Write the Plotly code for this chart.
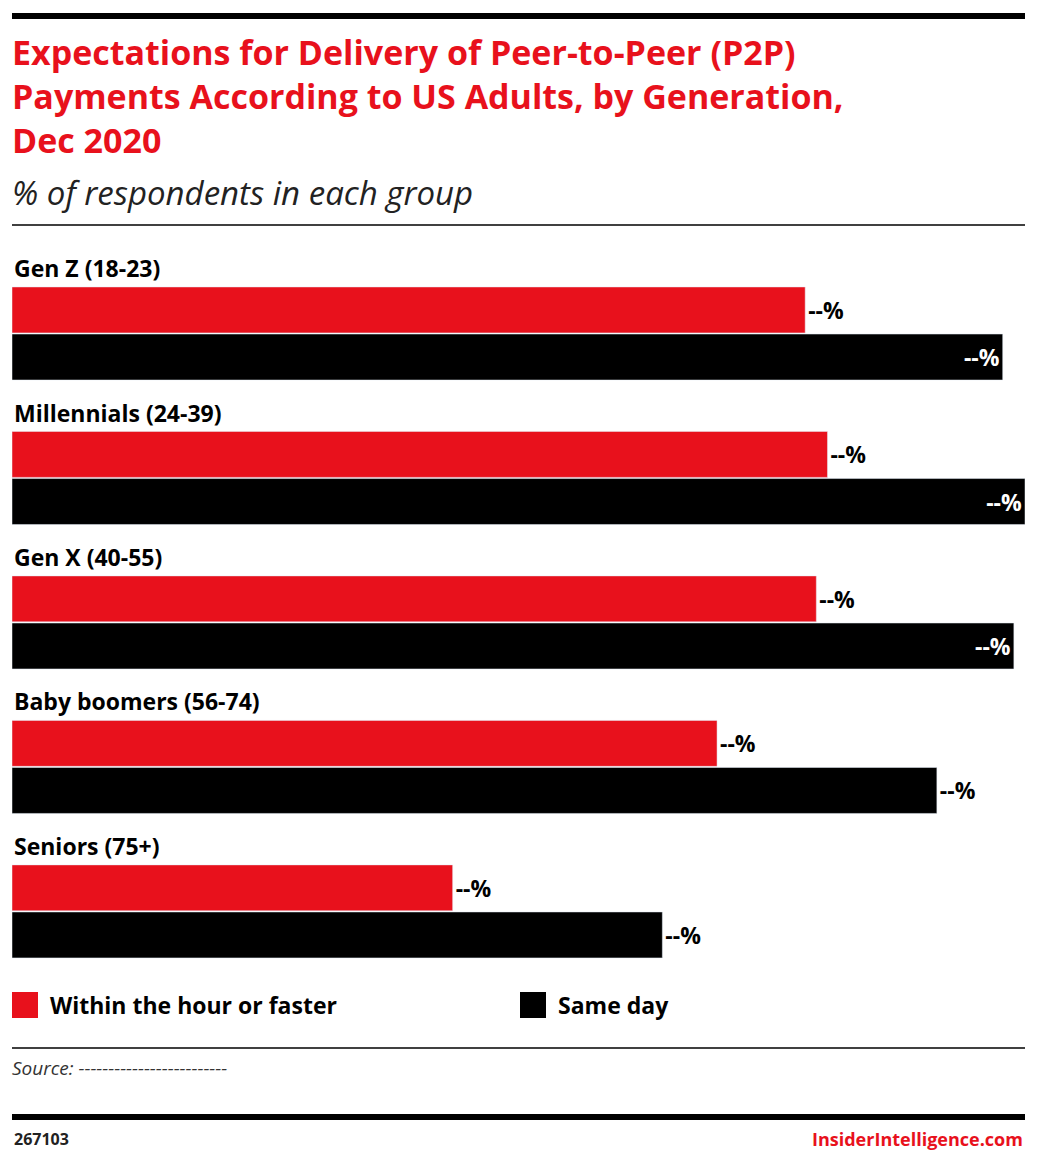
import plotly.graph_objects as go

categories = ["Gen Z (18-23)", "Millennials (24-39)", "Gen X (40-55)", "Baby boomers (56-74)", "Seniors (75+)"]
within_hour = [78.3, 80.5, 79.4, 69.6, 43.5]
same_day = [97.8, 100.0, 98.9, 91.3, 64.2]
bar_labels = ["--%"] * 5
series_names = ["Within the hour or faster", "Same day"]
RED, BLACK = "#e8111c", "#000000"
OFF = 8  # page body margin
W, H = 1038 - 2 * OFF, 1163 - 2 * OFF
FONT = "Open Sans"

def px_x(x):
    return (x - OFF) / W

def py(y):
    return 1 - (y - OFF) / H

idx = list(range(len(categories)))
fig = go.Figure()
fig.add_bar(x=within_hour, y=[i + 0.29 for i in idx], orientation="h", width=0.318,
            marker_color=RED, name=series_names[0], text=[f"<b>{t}</b>" for t in bar_labels],
            textposition="outside", textfont=dict(size=23, color="black", family=FONT),
            cliponaxis=False, showlegend=False)
pos = ["inside" if v > 95 else "outside" for v in same_day]
fig.add_bar(x=same_day, y=[i + 0.616 for i in idx], orientation="h", width=0.318,
            marker_color=BLACK, name=series_names[1], text=[f"<b>{t}</b>" for t in bar_labels],
            textposition=pos, insidetextanchor="end",
            insidetextfont=dict(size=23, color="white", family=FONT),
            outsidetextfont=dict(size=23, color="black", family=FONT),
            cliponaxis=False, showlegend=False)

for i, c in enumerate(categories):
    fig.add_annotation(x=0, y=i, xref="x", yref="y", text=f"<b>{c}</b>", showarrow=False,
                       xanchor="left", yanchor="middle", font=dict(size=23, color="black", family=FONT))

anns = [
    (10, 96, "<b>Expectations for Delivery of Peer-to-Peer (P2P)<br>Payments According to US Adults, by Generation,<br>Dec 2020</b>", 34, RED, "left"),
    (10, 193, "<i>% of respondents in each group</i>", 33, "#222", "left"),
    (10, 1068, "<i>Source: -------------------------</i>", 19, "#333", "left"),
    (12, 1139, "<b>267103</b>", 16, "#222", "left"),
    (1025, 1139, "<b>InsiderIntelligence.com</b>", 18, RED, "right"),
]
for x, y, t, s, col, anc in anns:
    fig.add_annotation(x=px_x(x), y=py(y), xref="paper", yref="paper", text=t, showarrow=False,
                       xanchor=anc, yanchor="middle", align="left",
                       font=dict(size=s, color=col, family=FONT))

# legend
for (lx, col), name in zip([(12, RED), (520, BLACK)], series_names):
    fig.add_shape(type="rect", xref="paper", yref="paper", x0=px_x(lx), x1=px_x(lx + 26),
                  y0=py(1018), y1=py(992), fillcolor=col, line_width=0)
    fig.add_annotation(x=px_x(lx + 36), y=py(1005), xref="paper", yref="paper",
                       text=f"<b>{name}</b>", showarrow=False, xanchor="left", yanchor="middle",
                       font=dict(size=23, color="black", family=FONT))

for y, w in [(16, 6), (225, 1.5), (1048, 1.5), (1117, 6)]:
    fig.add_shape(type="line", xref="paper", yref="paper", x0=px_x(12), x1=px_x(1025),
                  y0=py(y), y1=py(y), line=dict(color="black", width=w))

fig.update_layout(
    width=W, height=H, margin=dict(l=0, r=0, t=0, b=0),
    plot_bgcolor="white", paper_bgcolor="white", barmode="overlay",
    font=dict(family=FONT), showlegend=False,
    xaxis=dict(range=[0, 100], domain=[px_x(12), px_x(1025)], visible=False),
    yaxis=dict(range=[4.824, -0.194], domain=[py(965), py(240)], visible=False),
)
fig.write_html("out.html")
